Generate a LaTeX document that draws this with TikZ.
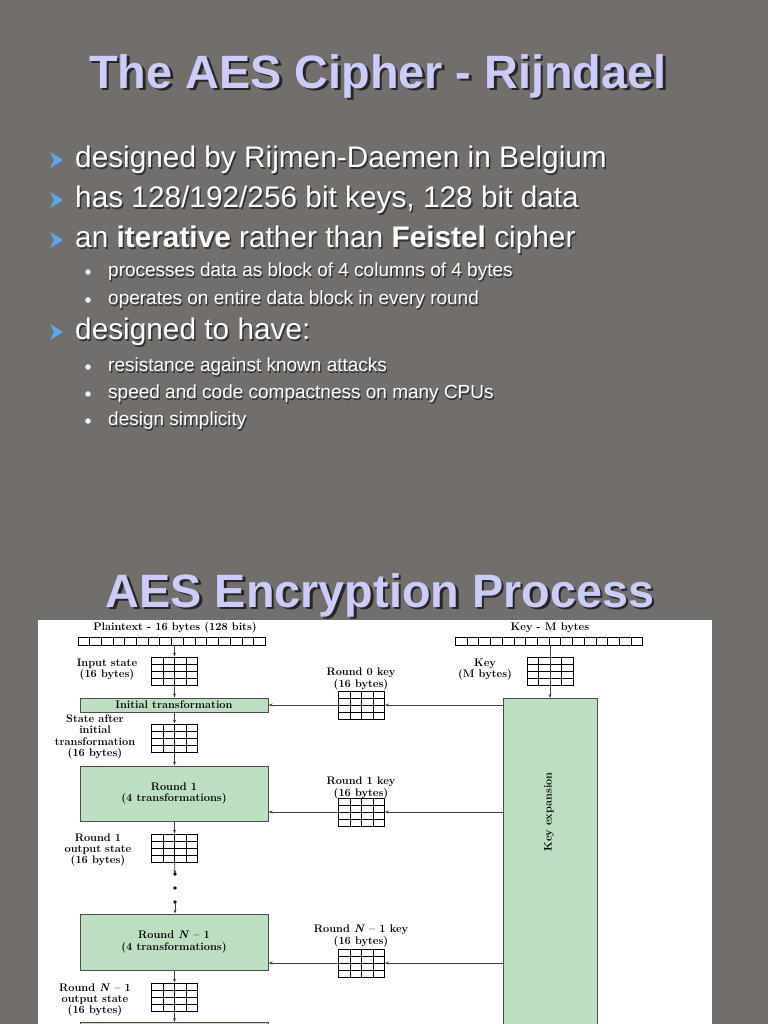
\documentclass[tikz,border=0pt]{standalone}
\usepackage{fontspec}
\setsansfont{Liberation Sans}
\usetikzlibrary{calc,arrows.meta}
\definecolor{bg}{HTML}{726E6C}
\definecolor{ttl}{HTML}{CCCCFA}
\definecolor{blt}{HTML}{5AA8F0}
\definecolor{grn}{HTML}{BCDFC0}
\newcommand\gridlines[3]{% name, cols, rows
  \foreach \i in {1,...,#2}{\pgfmathsetmacro\f{\i/#2}\ifnum\i<#2\relax\draw[line width=0.6pt] ($(#1.north west)!\f!(#1.north east)$) -- ($(#1.south west)!\f!(#1.south east)$);\fi}
  \foreach \j in {1,...,#3}{\pgfmathsetmacro\g{\j/#3}\ifnum\j<#3\relax\draw[line width=0.6pt] ($(#1.north west)!\g!(#1.south west)$) -- ($(#1.north east)!\g!(#1.south east)$);\fi}}
\newcommand\dfont{\bfseries\fontsize{11}{11.2}\selectfont}
\tikzset{
  ttlstyle/.style={font=\sffamily\bfseries\fontsize{46.8}{50}\selectfont, inner sep=0},
  l1/.style={font=\sffamily\fontsize{29.8}{32}\selectfont, anchor=west, inner sep=0},
  l2/.style={font=\sffamily\fontsize{19}{21}\selectfont, anchor=west, inner sep=0},
  lab/.style={font=\dfont, align=center, inner sep=0},
  sgrid/.style={draw, line width=0.8pt, minimum width=46pt, minimum height=28pt, inner sep=0},
  brow/.style={draw, line width=0.6pt, minimum width=187pt, minimum height=8pt, inner sep=0},
  gbox/.style={draw=black!70, line width=1pt, fill=grn, inner sep=0},
  arr/.style={-{Stealth[length=4pt,width=3pt]}, line width=0.7pt, black!75},
}
\newcommand\bline[3]{\node[l1,black!80] at (#1+1.5,#2+1.5) {#3};\node[l1,white] at (#1,#2) {#3};}
\newcommand\sline[3]{\node[l2,black!80] at (#1+1.2,#2+1.2) {#3};\node[l2,white] at (#1,#2) {#3};}
\begin{document}
\begin{tikzpicture}[x=1pt,y=-1pt]
\fill[bg] (0,0) rectangle (768,1024);
\useasboundingbox (0,0) rectangle (768,1024);
% title
\node[ttlstyle,black!85] at (380.5,78.5) {The AES Cipher - Rijndael};
\node[ttlstyle,ttl] (t1) at (378,76) {The AES Cipher - Rijndael};
% bullets
\foreach \y in {160,200,240,332}{\fill[blt] (50,\y-8) -- (63,\y) -- (50,\y+8) -- (54,\y) -- cycle;}
\foreach \y in {272,300,367,394,421}{\fill[white!85!blt] (88,\y) circle (2.8);}
\bline{75}{160}{designed by Rijmen-Daemen in Belgium}
\bline{75}{200}{has 128/192/256 bit keys, 128 bit data}
\bline{75}{240}{an \textbf{iterative} rather than \textbf{Feistel} cipher}
\sline{108}{272}{processes data as block of 4 columns of 4 bytes}
\sline{108}{300}{operates on entire data block in every round}
\bline{75}{332}{designed to have:}
\sline{108}{367}{resistance against known attacks}
\sline{108}{394}{speed and code compactness on many CPUs}
\sline{108}{421}{design simplicity}
% second title
\node[ttlstyle,black!85] at (382.5,597.5) {AES Encryption Process};
\node[ttlstyle,ttl] (t2) at (380,595) {AES Encryption Process};
% diagram
\fill[white] (38,620) rectangle (712,1024);
\node[lab] (ptl) at (175,628) {Plaintext - 16 bytes (128 bits)};
\node[brow] (pt) at (171.5,641) {}; \gridlines{pt}{16}{1}
\node[lab] (kl) at (550,628) {Key - M bytes};
\node[brow] (kr) at (549,641) {}; \gridlines{kr}{16}{1}
\node[sgrid] (ig) at (174.5,671) {}; \gridlines{ig}{4}{4}
\node[lab] at (107,670) {Input state\\(16 bytes)};
\node[sgrid] (kg) at (550,671) {}; \gridlines{kg}{4}{4}
\node[lab] at (485,670) {Key\\(M bytes)};
\node[gbox, minimum width=94pt, minimum height=330pt, anchor=north] (ke) at (550,698) {};
\node[font=\dfont, rotate=90] at (549,812) {Key expansion};
\node[gbox, minimum width=188pt, minimum height=14pt] (it) at (174,705) {\dfont Initial transformation};
\node[sgrid] (r0) at (361.5,705) {}; \gridlines{r0}{4}{4}
\node[lab] at (361,679) {Round 0 key\\(16 bytes)};
\node[sgrid] (sg) at (174.5,738) {}; \gridlines{sg}{4}{4}
\node[lab] at (95,737) {State after\\initial\\transformation\\(16 bytes)};
\node[gbox, minimum width=188pt, minimum height=55pt, align=center, font=\dfont] (r1) at (174,793.5) {Round 1\\(4 transformations)};
\node[sgrid] (k1) at (361.5,812) {}; \gridlines{k1}{4}{4}
\node[lab] at (361,788) {Round 1 key\\(16 bytes)};
\node[sgrid] (o1) at (174.5,848) {}; \gridlines{o1}{4}{4}
\node[lab] at (98,850) {Round 1\\output state\\(16 bytes)};
\coordinate (d1) at (175,874); \coordinate (d3) at (175,902);
\foreach \y in {874,888,902}{\fill (175,\y) circle (1.8);}
\node[gbox, minimum width=188pt, minimum height=56pt, align=center, font=\dfont] (rn) at (174,942) {Round \textit{N} -- 1\\(4 transformations)};
\node[sgrid] (kn) at (361.5,963) {}; \gridlines{kn}{4}{4}
\node[lab] at (361,936) {Round \textit{N} -- 1 key\\(16 bytes)};
\node[sgrid] (on) at (174.5,997) {}; \gridlines{on}{4}{4}
\node[lab] at (95,1000) {Round \textit{N} -- 1\\output state\\(16 bytes)};
\draw[gbox] (80,1022) rectangle (268,1030);
% arrows
\draw[arr] (pt.south -| ig.north) -- (ig.north);
\draw[arr] (ig.south) -- (it.north -| ig.south);
\draw[arr] (kr.south -| ke.north) -- (ke.north);
\draw[arr] (it.south -| sg.north) -- (sg.north);
\draw[arr] (sg.south) -- (r1.north -| sg.south);
\draw[arr] (r1.south -| o1.north) -- (o1.north);
\draw[arr] (o1.south) -- (d1);
\draw[arr] (d3) -- (rn.north -| d3);
\draw[arr] (rn.south -| on.north) -- (on.north);
\draw[arr] (on.south) -- (on.south |- 0,1022);
\draw[arr] (ke.west |- r0) -- (r0.east);
\draw[arr] (r0.west) -- (it.east |- r0);
\draw[arr] (ke.west |- k1) -- (k1.east);
\draw[arr] (k1.west) -- (r1.east |- k1);
\draw[arr] (ke.west |- kn) -- (kn.east);
\draw[arr] (kn.west) -- (rn.east |- kn);
\end{tikzpicture}
\end{document}
